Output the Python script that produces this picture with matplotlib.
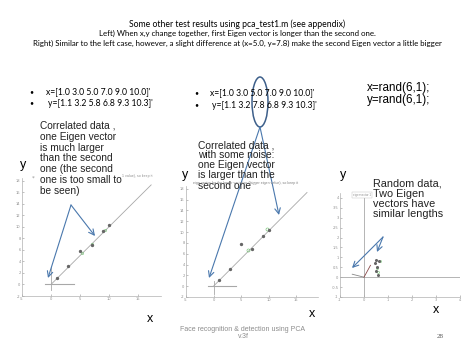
#!/usr/bin/env python3
"""Slide: PCA test results on three small data sets (pca_test1.m)."""

import matplotlib
matplotlib.use("Agg")
import matplotlib.pyplot as plt
from matplotlib.patches import Ellipse

W, H = 474, 355

# data from the slide
x_data = [1.0, 3.0, 5.0, 7.0, 9.0, 10.0]
y_left = [1.1, 3.2, 5.8, 6.8, 9.3, 10.3]
y_mid = [1.1, 3.2, 7.8, 6.8, 9.3, 10.3]
# reconstructed points (green)
green_left_x = [5.4, 7.1, 9.3]
green_left_y = [5.5, 7.0, 9.4]
green_mid_x = [6.2, 9.7]
green_mid_y = [6.6, 10.5]
# first eigen vector drawn as a line from origin
eig_left = (17.3, 17.3)
eig_mid = (17.0, 17.3)
# short horizontal / vertical marks near the origin
hmark_x = [-1.0, 4.0]
vmark_left_y = [-1.0, 3.0]
vmark_mid_y = [-1.5, 1.0]

# random data (right plot)
rand_x = [0.48, 0.50, 0.57, 0.63, 0.55, 0.44]
rand_y = [0.86, 0.31, 0.12, 0.80, 0.50, 0.70]
green_rand_x = [0.66, 0.55, 0.58]
green_rand_y = [0.80, 0.48, 0.25]
ev_a = (-0.49, 0.15)
ev_b = (0.27, 0.60)

xt_lin = [-5, 0, 5, 10, 15]
yt_lin = list(range(-2, 19, 2))
xt_rand = [-1, 0, 1, 2, 3, 4]
yt_rand = [-1, -0.5, 0, 0.5, 1, 1.5, 2, 2.5, 3, 3.5, 4]

BLUE = "#4a78ad"
GRAY = "#a8a8a8"
SANS = "Liberation Sans"
CAL = "Lato"

fig = plt.figure(figsize=(W / 100, H / 100), dpi=100)
fig.patch.set_facecolor("white")


def px_axes(x0, x1, ytop, ybot):
    return fig.add_axes([x0 / W, (H - ybot) / H, (x1 - x0) / W, (ybot - ytop) / H])


def style(ax, xt, yt):
    for s in ("top", "right"):
        ax.spines[s].set_visible(False)
    for s in ("left", "bottom"):
        ax.spines[s].set_color("#b0b0b0")
        ax.spines[s].set_linewidth(0.5)
    ax.set_xticks(xt)
    ax.set_yticks(yt)
    ax.set_xticklabels([f"{v:g}" for v in xt])
    ax.set_yticklabels([f"{v:g}" for v in yt])
    ax.tick_params(labelsize=2.6, colors="#909090", length=1.2, width=0.4,
                   direction="in", pad=1)
    ax.patch.set_alpha(0)


# left plot
ax1 = px_axes(22, 161, 178, 296)
ax1.set_xlim(-5, 19)
ax1.set_ylim(-2, 18.5)
style(ax1, xt_lin, yt_lin)
ax1.plot([0, eig_left[0]], [0, eig_left[1]], color=GRAY, lw=0.6)
ax1.plot(hmark_x, [0, 0], color=GRAY, lw=0.8)
ax1.plot([0, 0], vmark_left_y, color=GRAY, lw=0.6)
ax1.plot(green_left_x, green_left_y, "o", ms=1.6, mfc="none", mec="#66bb66", mew=0.4)
ax1.plot(x_data, y_left, "o", ms=1.4, color="#666666")

# middle plot
ax2 = px_axes(186, 318, 186, 297)
ax2.set_xlim(-5, 19)
ax2.set_ylim(-2, 18.5)
style(ax2, xt_lin, yt_lin)
ax2.plot([0, eig_mid[0]], [0, eig_mid[1]], color=GRAY, lw=0.6)
ax2.plot(hmark_x, [0, 0], color=GRAY, lw=0.8)
ax2.plot([0, 0], vmark_mid_y, color=GRAY, lw=0.6)
ax2.plot(green_mid_x, green_mid_y, "o", ms=2.2, mfc="none", mec="#66bb66", mew=0.4)
ax2.plot(x_data, y_mid, "o", ms=1.4, color="#666666")

# right plot
ax3 = px_axes(340, 460, 193, 297)
ax3.set_xlim(-1, 4)
ax3.set_ylim(-1, 4.25)
style(ax3, xt_rand, yt_rand)
ax3.axhline(0, color=GRAY, lw=0.6)
ax3.axvline(0, color=GRAY, lw=0.6)
ax3.plot([0, ev_a[0]], [0, ev_a[1]], color="#888888", lw=0.6)
ax3.plot([0, ev_b[0]], [0, ev_b[1]], color="#8a4a4a", lw=0.6)
ax3.plot(green_rand_x, green_rand_y, "o", ms=1.5, mfc="none", mec="#66bb66", mew=0.4)
ax3.plot(rand_x, rand_y, "o", ms=1.2, color="#666666")

# overlay in pixel coordinates for the slide text and callouts
ov = fig.add_axes([0, 0, 1, 1], zorder=10)
ov.set_xlim(0, W)
ov.set_ylim(H, 0)
ov.axis("off")
ov.patch.set_alpha(0)


def arrow(x0, y0, x1, y1):
    ov.annotate("", xy=(x1, y1), xytext=(x0, y0),
                arrowprops=dict(arrowstyle="->,head_length=0.4,head_width=0.2",
                                color=BLUE, lw=0.8, shrinkA=0, shrinkB=0))


# header
ov.text(237, 24, "Some other test results using pca_test1.m (see appendix)",
        ha="center", va="center", fontsize=6.2, family=CAL)
ov.text(237, 33, "Left) When x,y change together, first Eigen vector is longer than the second one.",
        ha="center", va="center", fontsize=5.7, family=CAL)
ov.text(237, 43, "Right) Similar to the left case, however, a slight difference at (x=5.0, y=7.8) "
        "make the second Eigen vector a little bigger",
        ha="center", va="center", fontsize=5.7, family=CAL)

# bullets
for bx, tx, ys in [(31, 46, (92, 103)), (196, 210, (93, 105))]:
    ov.text(bx, ys[0], "\u2022", ha="center", va="center", fontsize=5, family=CAL)
    ov.text(bx, ys[1], "\u2022", ha="center", va="center", fontsize=5, family=CAL)
    ov.text(tx, ys[0], "x=[1.0 3.0 5.0 7.0 9.0 10.0]'", ha="left", va="center",
            fontsize=6.2, family=CAL)
    ov.text(tx + 2, ys[1], "y=[1.1 3.2 5.8 6.8 9.3 10.3]'" if bx == 31
            else "y=[1.1 3.2 7.8 6.8 9.3 10.3]'", ha="left", va="center",
            fontsize=6.2, family=CAL)

ov.text(399, 94, "x=rand(6,1);\ny=rand(6,1);", ha="center", va="center",
        fontsize=8.4, family=SANS, linespacing=0.95)

# plot titles (only the part not hidden by the slide text)
ov.text(122, 176, "1 value), so keep it", ha="left",
        va="center", fontsize=2.6, color="#909090", family=SANS)
ov.text(33, 178, "*", ha="center", va="center", fontsize=4, color="#909090")
ov.text(353, 195, "eigenvector 1", ha="left", va="center", fontsize=2.2, color="#909090",
        family=SANS, bbox=dict(boxstyle="square,pad=0.3", fc="white", ec="#c0c0c0", lw=0.3))

# slide annotations
ov.text(40, 121, "Correlated data ,\none Eigen vector\nis much larger\nthan the second\n"
        "one (the second\none is too small to\nbe seen)", ha="left", va="top",
        fontsize=7.3, family=SANS, color="#222222", linespacing=1.1, zorder=5)
ov.text(198, 140, "Correlated data ,\nwith some noise:\none Eigen vector\nis larger than the\n"
        "second one", ha="left", va="top", fontsize=7.4, family=SANS, color="#222222",
        linespacing=1.02, zorder=5)
ov.text(193, 183, "eign vector for the larger variation (bigger eigen value), so keep it",
        ha="left", va="center", fontsize=2.6, color="#808080", family=SANS, zorder=6)
ov.text(373, 179, "Random data,\nTwo Eigen\nvectors have\nsimilar lengths", ha="left",
        va="top", fontsize=7.8, family=SANS, color="#222222", linespacing=0.98, zorder=5)

# callout lines
arrow(71, 205, 48, 278)
arrow(71, 205, 95, 236)
ov.add_patch(Ellipse((260, 102), 16, 50, fill=False, ec="#3d5f8a", lw=1.1))
arrow(260, 127, 209, 278)
arrow(260, 127, 279, 215)
arrow(383, 237, 352, 268)
arrow(383, 237, 377, 252)

# axis letters
for (lx, ly, s) in [(23, 165, "y"), (185, 175, "y"), (343, 175, "y"),
                    (150, 319, "x"), (312, 314, "x"), (436, 310, "x")]:
    ov.text(lx, ly, s, ha="center", va="center", fontsize=9, family=SANS)

# footer
ov.text(243, 333, "Face recognition & detection using PCA\nv.3f", ha="center", va="center",
        fontsize=5.0, color="#8c8c8c", family=SANS, linespacing=1.1)
ov.text(440, 337, "28", ha="center", va="center", fontsize=5, color="#555555",
        family="Liberation Serif")

fig.savefig("out.png", dpi=100)
